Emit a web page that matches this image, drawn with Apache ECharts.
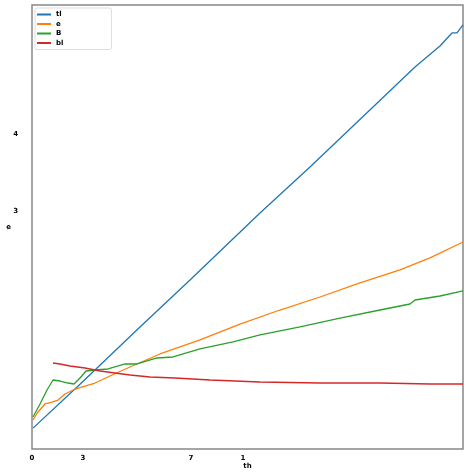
<!DOCTYPE html>
<html>
<head>
<meta charset="utf-8">
<script src="https://cdn.jsdelivr.net/npm/echarts@6/dist/echarts.min.js"></script>
<style>
  html, body { margin: 0; padding: 0; background: #fff; }
  #chart { width: 474px; height: 474px; }
</style>
</head>
<body>
<div id="chart"></div>
<script>
// series names as printed in the legend
const names = ["tl", "e", "B", "bl"];
const colors = ["#1f77b4", "#ff7f0e", "#2ca02c", "#d62728"];

// tick positions and their labels
const xTickValues = [0, 5.1, 15.9, 21.1];
const xTickLabels = ["0", "3", "7", "1"];
const yTickValues = [3, 4];
const yTickLabels = ["3", "4"];

// [x, y] points
const blue = [[0.1, 0.18], [4.8, 0.75], [10.8, 1.494], [15.8, 2.104], [22.8, 2.974], [27.8, 3.571],
  [38.3, 4.87], [40.8, 5.143], [42.0, 5.312], [42.5, 5.312], [43.1, 5.416]];
const orange = [[0.1, 0.286], [0.6, 0.39], [1.3, 0.494], [2.0, 0.519], [2.6, 0.545], [3.3, 0.623],
  [4.3, 0.688], [5.3, 0.727], [6.3, 0.766], [7.8, 0.857], [9.8, 0.974], [12.8, 1.143], [16.8, 1.325],
  [20.8, 1.532], [24.8, 1.714], [28.8, 1.883], [32.8, 2.065], [36.8, 2.234], [39.8, 2.39], [43.1, 2.597]];
const green = [[0.1, 0.325], [0.8, 0.494], [1.5, 0.675], [2.1, 0.805], [2.8, 0.792], [3.6, 0.766],
  [4.2, 0.753], [4.8, 0.831], [5.4, 0.922], [6.3, 0.935], [7.6, 0.948], [9.3, 1.013], [10.5, 1.013],
  [12.5, 1.091], [14.1, 1.104], [16.8, 1.208], [20.1, 1.299], [22.8, 1.39], [26.8, 1.494], [30.8, 1.61],
  [34.8, 1.714], [37.8, 1.792], [38.3, 1.844], [40.8, 1.896], [43.1, 1.961]];
const red = [[2.1, 1.026], [2.8, 1.013], [3.8, 0.987], [5.3, 0.961], [6.8, 0.922], [8.3, 0.896],
  [9.8, 0.87], [11.8, 0.844], [14.3, 0.831], [17.8, 0.805], [22.8, 0.779], [28.8, 0.766], [34.8, 0.766],
  [39.8, 0.753], [43.1, 0.753]];

const allData = [blue, orange, green, red];

const labelFont = { fontFamily: "DejaVu Sans", fontSize: 7, fontWeight: "bold", color: "#000" };

let myChart = echarts.init(document.getElementById("chart"));
myChart.setOption({
  animation: false,
  color: colors,
  grid: {
    left: 32, right: 11, top: 5, bottom: 25,
    containLabel: false, outerBoundsMode: "none",
    show: true, borderColor: "#888", borderWidth: 1.5, backgroundColor: "#fff"
  },
  legend: {
    orient: "vertical",
    left: 35, top: 8,
    data: names,
    icon: "rect",
    itemWidth: 14, itemHeight: 2, itemGap: 2.5,
    padding: [3, 48, 3, 2],
    borderColor: "#ddd", borderWidth: 1, borderRadius: 2,
    backgroundColor: "#fff",
    textStyle: Object.assign({ padding: [0, 0, 0, 0] }, labelFont)
  },
  xAxis: {
    type: "value",
    min: 0, max: 43.1,
    name: "th", nameLocation: "middle", nameGap: 14, nameMoveOverlap: false,
    nameTextStyle: labelFont,
    axisLine: { show: false },
    axisTick: { show: false },
    splitLine: { show: false },
    axisLabel: Object.assign({
      customValues: xTickValues,
      margin: 6,
      formatter: (v) => xTickLabels[xTickValues.indexOf(v)]
    }, labelFont)
  },
  yAxis: {
    type: "value",
    min: -0.091, max: 5.675,
    name: "e", nameLocation: "middle", nameGap: 21, nameRotate: 0, nameMoveOverlap: false,
    nameTextStyle: labelFont,
    axisLine: { show: false },
    axisTick: { show: false },
    splitLine: { show: false },
    axisLabel: Object.assign({
      customValues: yTickValues,
      margin: 14,
      formatter: (v) => yTickLabels[yTickValues.indexOf(v)]
    }, labelFont)
  },
  series: names.map((n, i) => ({
    name: n,
    type: "line",
    showSymbol: false,
    symbol: "none",
    data: allData[i],
    lineStyle: { width: 1.3, color: colors[i] },
    itemStyle: { color: colors[i] }
  }))
});
</script>
</body>
</html>
